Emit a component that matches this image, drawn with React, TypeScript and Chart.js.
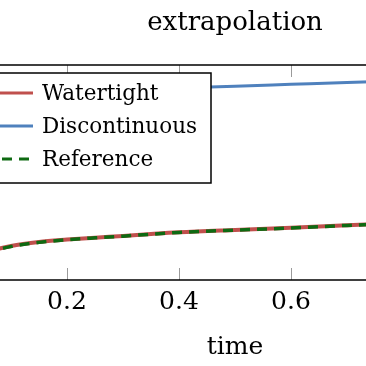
import React, { useEffect, useRef } from "react";
import { Chart, registerables } from "chart.js";

Chart.register(...registerables);

const TITLE = "extrapolation";
const X_LABEL = "time";
const X_TICKS = [0, 0.2, 0.4, 0.6, 0.8, 1];
const TIMES = [0, 0.05, 0.1, 0.15, 0.2, 0.25, 0.3, 0.35, 0.4, 0.5, 0.6, 0.7, 0.8, 0.9, 1.0];
const WATERTIGHT = [0.07, 0.125, 0.158, 0.177, 0.188, 0.197, 0.205, 0.214, 0.222, 0.233, 0.243, 0.255, 0.265, 0.273, 0.28];
const DISCONTINUOUS = [0.8, 0.84, 0.855, 0.865, 0.872, 0.877, 0.883, 0.888, 0.893, 0.901, 0.91, 0.919, 0.927, 0.934, 0.94];
const REFERENCE = [0.068, 0.122, 0.156, 0.175, 0.187, 0.196, 0.204, 0.213, 0.221, 0.232, 0.242, 0.254, 0.264, 0.272, 0.279];
const SERIES_LABELS = ["Watertight", "Discontinuous", "Reference"];
const SERIES_COLORS = ["#c0504d", "#4f81bd", "#0e6a12"];

const FONT = "DejaVu Serif";

const toPoints = (ys: number[]) => TIMES.map((t, i) => ({ x: t, y: ys[i] }));

const framePlugin = {
  id: "frame",
  afterDatasetsDraw(chart: any) {
    const { ctx, chartArea: a, scales } = chart;
    const xs = scales.x;
    ctx.save();
    ctx.strokeStyle = "#9a9a9a";
    ctx.lineWidth = 1;
    for (const v of X_TICKS) {
      const px = Math.round(xs.getPixelForValue(v)) + 0.5;
      ctx.beginPath();
      ctx.moveTo(px, a.top);
      ctx.lineTo(px, a.top + 12);
      ctx.moveTo(px, a.bottom);
      ctx.lineTo(px, a.bottom - 12);
      ctx.stroke();
    }
    ctx.strokeStyle = "#000";
    ctx.lineWidth = 1.5;
    ctx.strokeRect(a.left, a.top, a.right - a.left, a.bottom - a.top);
    ctx.restore();
  },
};

const legendPlugin = {
  id: "innerLegend",
  afterDraw(chart: any) {
    const { ctx, chartArea: a } = chart;
    const left = a.left + 5;
    const top = a.top + 8;
    const right = a.left + 256;
    const bottom = a.top + 118;
    ctx.save();
    ctx.fillStyle = "#fff";
    ctx.fillRect(left, top, right - left, bottom - top);
    ctx.strokeStyle = "#000";
    ctx.lineWidth = 1.5;
    ctx.strokeRect(left, top, right - left, bottom - top);
    ctx.font = `21.5px ${FONT}`;
    ctx.textBaseline = "alphabetic";
    ctx.textAlign = "left";
    chart.data.datasets.forEach((ds: any, i: number) => {
      const base = a.top + 35 + i * 33;
      const ly = base - 7;
      ctx.save();
      ctx.strokeStyle = ds.borderColor;
      ctx.lineWidth = 3;
      ctx.setLineDash(ds.borderDash || []);
      ctx.beginPath();
      ctx.moveTo(a.left + 30, ly);
      ctx.lineTo(a.left + 78, ly);
      ctx.stroke();
      ctx.restore();
      ctx.fillStyle = "#000";
      ctx.fillText(ds.label, a.left + 87, base);
    });
    ctx.restore();
  },
};

export default function App() {
  const ref = useRef<HTMLCanvasElement | null>(null);
  useEffect(() => {
    if (!ref.current) return;
    const chart = new Chart(ref.current, {
      type: "line",
      data: {
        datasets: [
          {
            label: SERIES_LABELS[0],
            data: toPoints(WATERTIGHT),
            borderColor: SERIES_COLORS[0],
            borderWidth: 4,
            pointRadius: 0,
            cubicInterpolationMode: "monotone",
            fill: false,
            order: 2,
          },
          {
            label: SERIES_LABELS[1],
            data: toPoints(DISCONTINUOUS),
            borderColor: SERIES_COLORS[1],
            borderWidth: 3,
            pointRadius: 0,
            cubicInterpolationMode: "monotone",
            fill: false,
            order: 1,
          },
          {
            label: SERIES_LABELS[2],
            data: toPoints(REFERENCE),
            borderColor: SERIES_COLORS[2],
            borderWidth: 3.5,
            borderDash: [10, 7],
            pointRadius: 0,
            cubicInterpolationMode: "monotone",
            fill: false,
            order: 0,
          },
        ],
      },
      options: {
        animation: false,
        responsive: false,
        devicePixelRatio: 1,
        layout: { padding: { left: 40, right: 40, top: 0, bottom: 0 } },
        plugins: {
          legend: { display: false },
          tooltip: { enabled: false },
          title: {
            display: true,
            text: TITLE,
            color: "#000",
            font: { family: FONT, size: 26, weight: "normal" },
            padding: { top: 7.4, bottom: 26.4 },
          },
        },
        scales: {
          x: {
            type: "linear",
            min: 0,
            max: 1,
            afterBuildTicks: (s: any) => {
              s.ticks = X_TICKS.map((v) => ({ value: v }));
            },
            afterFit: (s: any) => {
              s.height = 86;
            },
            ticks: {
              autoSkip: false,
              maxRotation: 0,
              padding: 7,
              color: "#000",
              font: { family: FONT, size: 25 },
              callback: (v: any) => String(v),
            },
            grid: { display: false, drawTicks: false },
            border: { display: false },
            title: {
              display: true,
              text: X_LABEL,
              color: "#000",
              font: { family: FONT, size: 25 },
              padding: { top: 0, bottom: 3.5 },
            },
          },
          y: { display: false, min: 0, max: 1 },
        },
      },
      plugins: [framePlugin, legendPlugin],
    });
    return () => chart.destroy();
  }, []);
  return (
    <div
      style={{
        position: "fixed",
        left: 0,
        top: 0,
        width: 366,
        height: 366,
        overflow: "hidden",
        background: "#fff",
      }}
    >
      <canvas
        ref={ref}
        width={640}
        height={366}
        style={{ position: "absolute", left: -85, top: 0, width: 640, height: 366 }}
      />
    </div>
  );
}
